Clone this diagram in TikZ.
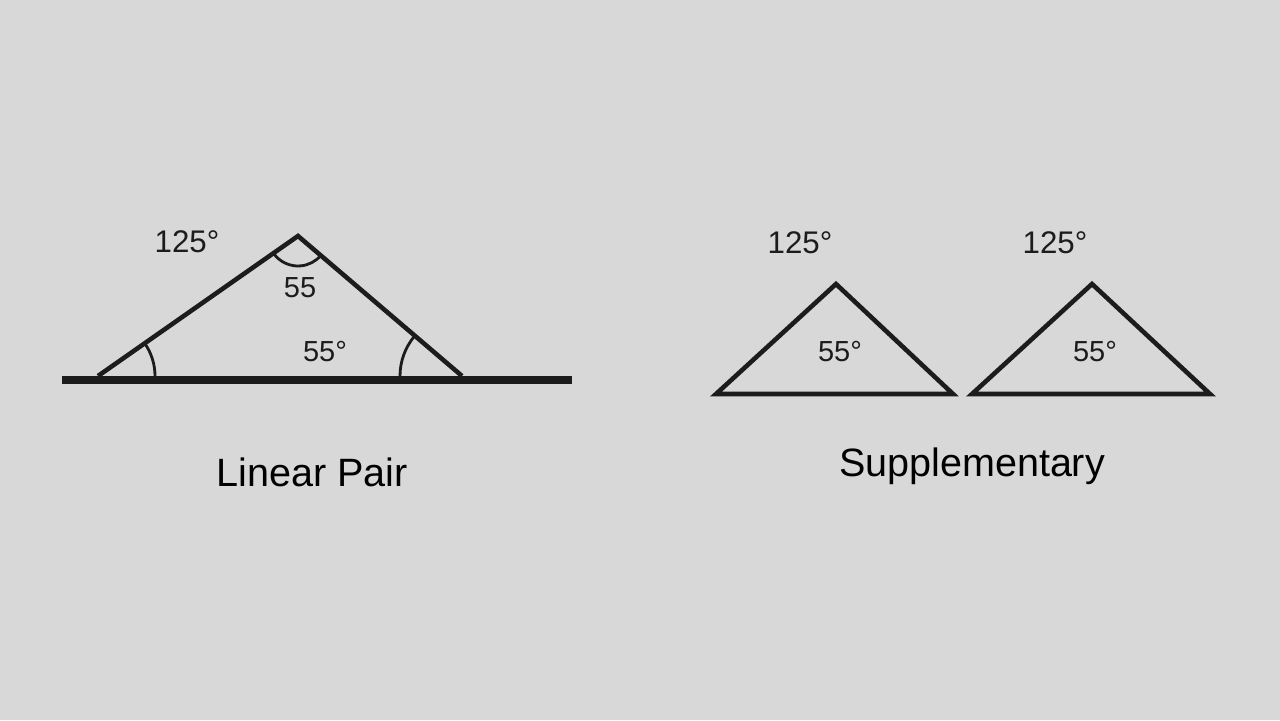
\documentclass[tikz,border=0pt]{standalone}
\usepackage{fontspec}
\setmainfont{Liberation Sans}
\definecolor{bgGray}{RGB}{216,216,216}
\definecolor{inkDark}{RGB}{28,28,28}
\tikzset{
  side/.style={draw=inkDark, line width=2.6pt, line join=miter},
  ground/.style={draw=inkDark, line width=5pt},
  mark arc/.style={draw=inkDark, line width=1.6pt},
  angle label/.style={inner sep=0pt, font=\fontsize{16.5}{18}\selectfont, text=inkDark},
  big label/.style={inner sep=0pt, font=\fontsize{17.8}{20}\selectfont, text=inkDark},
  title label/.style={inner sep=0pt, font=\fontsize{22.5}{26}\selectfont, text=black}
}
\begin{document}
\begin{tikzpicture}[x=0.02cm, y=0.02cm, >=stealth]
  \fill[bgGray] (0,0) rectangle (1280,720);
  \useasboundingbox (0,0) rectangle (1280,720);
  % linear pair
  \coordinate (gl) at (62,340);
  \coordinate (gr) at (572,340);
  \coordinate (la) at (98,344);
  \coordinate (lb) at (298,484);
  \coordinate (lc) at (462,344);
  \draw[ground] (gl) -- (gr);
  \draw[side] (la) -- (lb) -- (lc);
  \draw[mark arc] ([shift={(215:30)}]lb) arc[start angle=215, end angle=319.5, radius=30];
  \draw[mark arc] ([shift={(0:57)}]la) arc[start angle=0, end angle=35, radius=57];
  \draw[mark arc] ([shift={(139.5:62)}]lc) arc[start angle=139.5, end angle=180, radius=62];
  \node[big label] (ltop) at (187,478) {125°};
  \node[angle label] (lmid) at (300,432) {55};
  \node[angle label] (lbase) at (325,368) {55°};
  \node[title label] (lpair) at (312,248) {Linear Pair};
  % supplementary
  \coordinate (pa) at (716,326);
  \coordinate (pb) at (836,436);
  \coordinate (pc) at (953,326);
  \coordinate (qa) at (972,326);
  \coordinate (qb) at (1092,436);
  \coordinate (qc) at (1210,326);
  \draw[side] (pa) -- (pb) -- (pc) -- cycle;
  \draw[side] (qa) -- (qb) -- (qc) -- cycle;
  \node[big label] (ptop) at (800,477) {125°};
  \node[big label] (qtop) at (1055,477) {125°};
  \node[angle label] (pin) at (840,368) {55°};
  \node[angle label] (qin) at (1095,368) {55°};
  \node[title label] (supp) at (972,254) {Supplementary};
\end{tikzpicture}
\end{document}
